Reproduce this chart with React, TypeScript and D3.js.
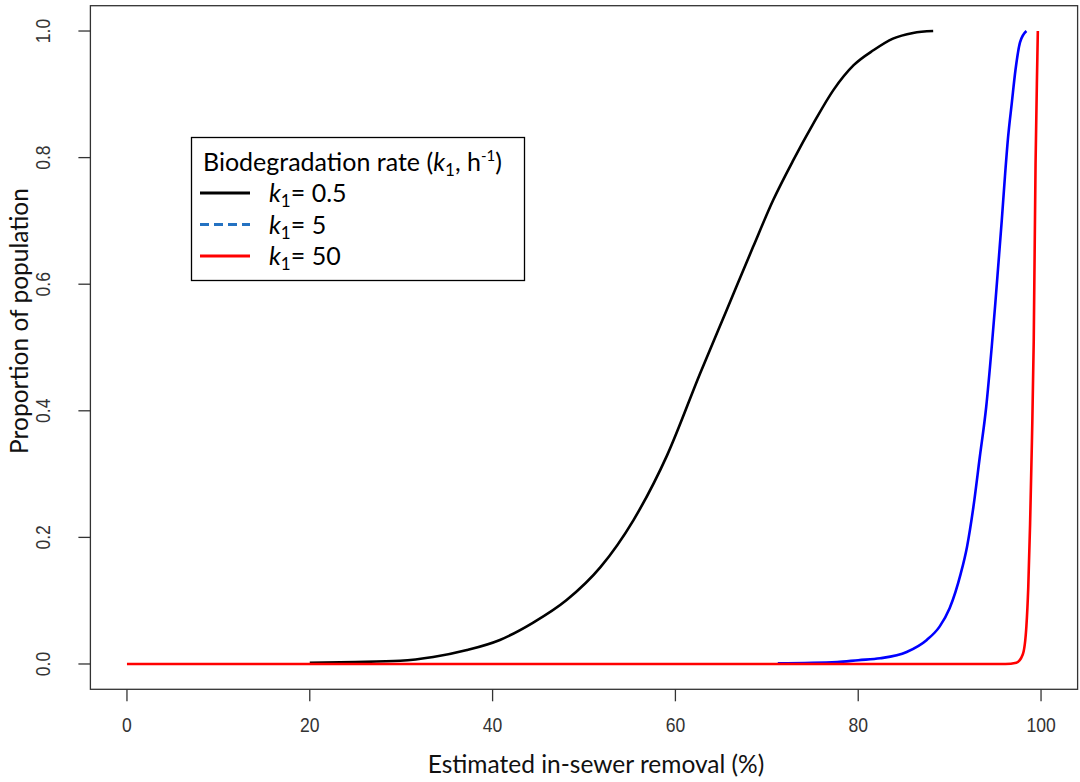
import React from "react";
import * as d3 from "d3";

// cumulative share of the population vs. estimated in-sewer removal (%)
const k05Removal = [20, 25, 29.9, 33.5, 37.2, 40.8, 44.4, 48.1, 51.8, 55.4, 59.1, 62.7, 65.6, 68.5, 70.7, 72.9, 75.1, 77.3, 79.5, 81.7, 83.8, 86.0, 88.2];
const k05Share = [0.002, 0.003, 0.005, 0.011, 0.022, 0.038, 0.065, 0.101, 0.153, 0.227, 0.33, 0.459, 0.559, 0.659, 0.733, 0.796, 0.854, 0.907, 0.946, 0.97, 0.988, 0.997, 1.0];

const k5Removal = [71.2, 77.7, 80.0, 82.4, 85.3, 87.5, 88.9, 90.0, 91.2, 91.9, 92.6, 93.3, 94.0, 94.6, 95.0, 95.35, 95.7, 96.05, 96.4, 96.8, 97.2, 97.7, 98.4];
const k5Share = [0.001, 0.003, 0.006, 0.009, 0.019, 0.038, 0.059, 0.088, 0.142, 0.185, 0.248, 0.327, 0.406, 0.5, 0.57, 0.635, 0.7, 0.77, 0.833, 0.886, 0.938, 0.982, 1.0];

const k50Removal = [0, 96.1, 97.3, 98.0, 98.4, 98.6, 98.8, 99.0, 99.2, 99.4, 99.6, 99.65];
const k50Share = [0, 0, 0.002, 0.015, 0.06, 0.12, 0.22, 0.35, 0.51, 0.79, 0.96, 1.0];

const xTicks = [0, 20, 40, 60, 80, 100];
const yTicks = [0, 0.2, 0.4, 0.6, 0.8, 1.0];

const legendItems = [
  { value: "0.5", color: "#000000", dash: "" },
  { value: "5", color: "#2472c2", dash: "9,5" },
  { value: "50", color: "#ff0000", dash: "" },
];

const W = 1080;
const H = 782;

export default function App() {
  // R-style 4% padding around the data range
  const x = d3.scaleLinear().domain([-4, 104]).range([90.4, 1077.6]);
  const y = d3.scaleLinear().domain([-0.04, 1.04]).range([689.3, 5.7]);

  const line = d3
    .line<[number, number]>()
    .x((d) => x(d[0]))
    .y((d) => y(d[1]))
    .curve(d3.curveMonotoneX);

  const zip = (a: number[], b: number[]) => a.map((v, i) => [v, b[i]] as [number, number]);

  const series = [
    { pts: zip(k05Removal, k05Share), color: "#000000" },
    { pts: zip(k5Removal, k5Share), color: "#0000ff" },
    { pts: zip(k50Removal, k50Share), color: "#ff0000" },
  ];

  const [x0, x1] = x.range();
  const [yb, yt] = y.range();
  const tickFont = "'Liberation Sans', Arial, sans-serif";
  const titleFont = "Lato, 'Open Sans', sans-serif";

  return (
    <svg width={W} height={H} style={{ position: "absolute", left: 0, top: 0, background: "#fff" }}>
      <rect x={0} y={0} width={W} height={H} fill="#fff" />

      {series.map((s, i) => (
        <path key={i} d={line(s.pts) || ""} fill="none" stroke={s.color} strokeWidth={2.6} />
      ))}

      {/* plot frame */}
      <rect x={x0} y={yt} width={x1 - x0} height={yb - yt} fill="none" stroke="#333" strokeWidth={1.3} />

      {/* x axis: slightly narrowed tick labels */}
      {xTicks.map((t) => (
        <g key={t}>
          <line x1={x(t)} x2={x(t)} y1={yb} y2={yb + 12} stroke="#333" strokeWidth={1.3} />
          <text
            transform={`translate(${x(t)},732) scale(0.9,1)`}
            textAnchor="middle"
            fontSize={19.5}
            fill="#333"
            fontFamily={tickFont}
          >
            {t}
          </text>
        </g>
      ))}

      {/* y axis */}
      {yTicks.map((t) => (
        <g key={t}>
          <line x1={x0 - 12} x2={x0} y1={y(t)} y2={y(t)} stroke="#333" strokeWidth={1.3} />
          <text
            transform={`translate(50,${y(t)}) rotate(-90) scale(0.9,1)`}
            textAnchor="middle"
            fontSize={19.5}
            fill="#333"
            fontFamily={tickFont}
          >
            {t.toFixed(1)}
          </text>
        </g>
      ))}

      <text x={596} y={773} textAnchor="middle" fontSize={24.5} fill="#111" fontFamily={titleFont}>
        Estimated in-sewer removal (%)
      </text>
      <text transform="translate(28,321) rotate(-90)" textAnchor="middle" fontSize={24.5} fill="#111" fontFamily={titleFont}>
        Proportion of population
      </text>

      {/* legend */}
      <g fontFamily={titleFont} fill="#000">
        <rect x={191.5} y={137.5} width={333} height={143} fill="#fff" stroke="#000" strokeWidth={1.3} />
        <text x={203} y={171} fontSize={25}>
          Biodegradation rate (<tspan fontStyle="italic">k</tspan>
          <tspan fontSize={17} dy={5}>1</tspan>
          <tspan dy={-5}>, h</tspan>
          <tspan fontSize={15} dy={-10}>-1</tspan>
          <tspan dy={10}>)</tspan>
        </text>
        {legendItems.map((it, i) => {
          const ly = 193 + i * 31.5;
          return (
            <g key={it.value}>
              <line x1={200} x2={250} y1={ly} y2={ly} stroke={it.color} strokeWidth={3.2} strokeDasharray={it.dash} />
              <text x={269} y={ly + 9} fontSize={25}>
                <tspan fontStyle="italic">k</tspan>
                <tspan fontSize={17} dy={5}>1</tspan>
                <tspan dy={-5}>= {it.value}</tspan>
              </text>
            </g>
          );
        })}
      </g>
    </svg>
  );
}
